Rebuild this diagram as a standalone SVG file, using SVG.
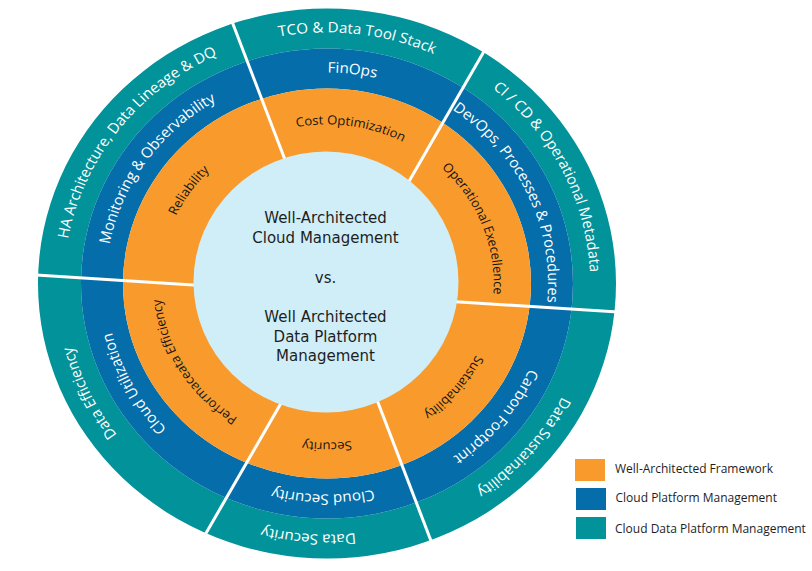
<svg xmlns="http://www.w3.org/2000/svg" xmlns:xlink="http://www.w3.org/1999/xlink" width="812" height="571" viewBox="0 0 812 571">
<style>
  text { font-family: "Open Sans", "Noto Sans", "DejaVu Sans", sans-serif; }
  .teal { fill: #02939A; }
  .blue { fill: #046DAA; }
  .orange { fill: #F99B2C; }
  .core { fill: #D0EEF8; }
  .lw { font-size: 14.5px; fill: #ffffff; text-anchor: middle; }
  .lo { font-size: 12.5px; fill: #141414; text-anchor: middle; }
  .ct { font-family: "DejaVu Sans", "Open Sans", sans-serif; font-size: 15px; fill: #1e1e1e; text-anchor: middle; }
  .lg { font-size: 12px; fill: #1e1e1e; }
  .sep { stroke: #ffffff; stroke-width: 3; fill: none; }
</style>
<defs>
  <path id="ring-teal" fill-rule="evenodd" d="M38,283.5A289,275 0 1 1 616,283.5A289,275 0 1 1 38,283.5Z M81,283.5A246,235 0 1 1 573,283.5A246,235 0 1 1 81,283.5Z"/>
  <path id="ring-blue" fill-rule="evenodd" d="M81,283.5A246,235 0 1 1 573,283.5A246,235 0 1 1 81,283.5Z M123,283.5A204,195 0 1 1 531,283.5A204,195 0 1 1 123,283.5Z"/>
  <path id="ring-orange" fill-rule="evenodd" d="M123,283.5A204,195 0 1 1 531,283.5A204,195 0 1 1 123,283.5Z M207,283.5A120,118 0 1 1 447,283.5A120,118 0 1 1 207,283.5Z"/>
  <clipPath id="w-top"><polygon points="339.4,301.9 185.5,-100 571.2,-100"/></clipPath>
  <clipPath id="w-ur"><polygon points="343.7,294.6 571.2,-100 900,-100 900,330.2"/></clipPath>
  <clipPath id="w-lr"><polygon points="336.4,294.1 900,330.2 900,900 568.5,900"/></clipPath>
  <clipPath id="w-bot"><polygon points="339.4,301.9 568.5,900 -5.5,900"/></clipPath>
  <clipPath id="w-ll"><polygon points="343.7,294.6 -5.5,900 -200,900 -200,259.8"/></clipPath>
  <clipPath id="w-ul"><polygon points="336.4,294.1 -200,259.8 -200,-100 185.5,-100"/></clipPath>
  <path id="arc-teal" d="M-247.2,-43.6A251,251 0 0 1 247.2,-43.6"/>
  <path id="arc-blue" d="M-207.8,-36.6A211,211 0 0 1 207.8,-36.6"/>
  <path id="arc-orange" d="M-156.6,-27.6A159,159 0 0 1 156.6,-27.6"/>
</defs>

<!-- Outer ring: Cloud Data Platform Management -->
<g id="tco-data-tool-stack">
  <use href="#ring-teal" class="teal" clip-path="url(#w-top)"/>
  <text class="lw" transform="translate(327 283.5) scale(1.048 1) rotate(6.7)"><textPath href="#arc-teal" startOffset="50%">TCO &amp; Data Tool Stack</textPath></text>
</g>
<g id="ci-cd-operational-metadata">
  <use href="#ring-teal" class="teal" clip-path="url(#w-ur)"/>
  <text class="lw" transform="translate(327 283.5) scale(1.048 1) rotate(63.2)"><textPath href="#arc-teal" startOffset="50%">CI / CD &amp; Operational Metadata</textPath></text>
</g>
<g id="data-sustainability">
  <use href="#ring-teal" class="teal" clip-path="url(#w-lr)"/>
  <text class="lw" transform="translate(327 283.5) scale(1.048 1) rotate(131.1)"><textPath href="#arc-teal" startOffset="50%">Data Sustainability</textPath></text>
</g>
<g id="data-security">
  <use href="#ring-teal" class="teal" clip-path="url(#w-bot)"/>
  <text class="lw" transform="translate(327 283.5) scale(1.048 1) rotate(184)"><textPath href="#arc-teal" startOffset="50%">Data Security</textPath></text>
</g>
<g id="data-efficiency">
  <use href="#ring-teal" class="teal" clip-path="url(#w-ll)"/>
  <text class="lw" transform="translate(327 283.5) scale(1.048 1) rotate(244.2)"><textPath href="#arc-teal" startOffset="50%">Data Efficiency</textPath></text>
</g>
<g id="ha-architecture">
  <use href="#ring-teal" class="teal" clip-path="url(#w-ul)"/>
  <text class="lw" transform="translate(327 283.5) scale(1.048 1) rotate(307.8)"><textPath href="#arc-teal" startOffset="50%">HA Architecture, Data Lineage &amp; DQ</textPath></text>
</g>

<!-- Middle ring: Cloud Platform Management -->
<g id="finops">
  <use href="#ring-blue" class="blue" clip-path="url(#w-top)"/>
  <text class="lw" transform="translate(327 283.5) scale(1.048 1) rotate(6.5)"><textPath href="#arc-blue" startOffset="50%">FinOps</textPath></text>
</g>
<g id="devops">
  <use href="#ring-blue" class="blue" clip-path="url(#w-ur)"/>
  <text class="lw" transform="translate(327 283.5) scale(1.048 1) rotate(64.8)"><textPath href="#arc-blue" startOffset="50%">DevOps, Processes &amp; Procedures</textPath></text>
</g>
<g id="carbon-footprint">
  <use href="#ring-blue" class="blue" clip-path="url(#w-lr)"/>
  <text class="lw" transform="translate(327 283.5) scale(1.048 1) rotate(129.6)"><textPath href="#arc-blue" startOffset="50%">Carbon Footprint</textPath></text>
</g>
<g id="cloud-security">
  <use href="#ring-blue" class="blue" clip-path="url(#w-bot)"/>
  <text class="lw" transform="translate(327 283.5) scale(1.048 1) rotate(181)"><textPath href="#arc-blue" startOffset="50%">Cloud Security</textPath></text>
</g>
<g id="cloud-utilization">
  <use href="#ring-blue" class="blue" clip-path="url(#w-ll)"/>
  <text class="lw" transform="translate(327 283.5) scale(1.048 1) rotate(241.5)"><textPath href="#arc-blue" startOffset="50%">Cloud Utilization</textPath></text>
</g>
<g id="monitoring-observability">
  <use href="#ring-blue" class="blue" clip-path="url(#w-ul)"/>
  <text class="lw" transform="translate(327 283.5) scale(1.048 1) rotate(305.3)"><textPath href="#arc-blue" startOffset="50%">Monitoring &amp; Observability</textPath></text>
</g>

<!-- Inner ring: Well-Architected Framework -->
<g id="cost-optimization">
  <use href="#ring-orange" class="orange" clip-path="url(#w-top)"/>
  <text class="lo" transform="translate(327 283.5) scale(1.048 1) rotate(8.3)"><textPath href="#arc-orange" startOffset="50%">Cost Optimization</textPath></text>
</g>
<g id="operational-excellence">
  <use href="#ring-orange" class="orange" clip-path="url(#w-ur)"/>
  <text class="lo" transform="translate(327 283.5) scale(1.048 1) rotate(68.6)"><textPath href="#arc-orange" startOffset="50%">Operational Execellence</textPath></text>
</g>
<g id="sustainability">
  <use href="#ring-orange" class="orange" clip-path="url(#w-lr)"/>
  <text class="lo" transform="translate(327 283.5) scale(1.048 1) rotate(130.7)"><textPath href="#arc-orange" startOffset="50%">Sustainability</textPath></text>
</g>
<g id="security">
  <use href="#ring-orange" class="orange" clip-path="url(#w-bot)"/>
  <text class="lo" transform="translate(327 283.5) scale(1.048 1) rotate(180)"><textPath href="#arc-orange" startOffset="50%">Security</textPath></text>
</g>
<g id="performance-efficiency">
  <use href="#ring-orange" class="orange" clip-path="url(#w-ll)"/>
  <text class="lo" transform="translate(327 283.5) scale(1.048 1) rotate(238.3)"><textPath href="#arc-orange" startOffset="50%">Performaceata Efficiency</textPath></text>
</g>
<g id="reliability">
  <use href="#ring-orange" class="orange" clip-path="url(#w-ul)"/>
  <text class="lo" transform="translate(327 283.5) scale(1.048 1) rotate(305.2)"><textPath href="#arc-orange" startOffset="50%">Reliability</textPath></text>
</g>

<!-- Separators -->
<g id="separators">
  <line class="sep" x1="232.2" y1="22" x2="431.8" y2="543"/>
  <line class="sep" x1="484.2" y1="51" x2="203.8" y2="537"/>
  <line class="sep" x1="36" y1="274.9" x2="618" y2="312.1"/>
</g>

<!-- Centre -->
<g id="centre">
  <ellipse class="core" cx="326" cy="282" rx="132.5" ry="130.5"/>
  <text class="ct"><tspan x="325.5" y="223">Well-Architected</tspan><tspan x="325.5" y="243">Cloud Management</tspan></text>
  <text class="ct" x="325.5" y="283">vs.</text>
  <text class="ct"><tspan x="325.5" y="322">Well Architected</tspan><tspan x="325.5" y="341.5">Data Platform</tspan><tspan x="325.5" y="361">Management</tspan></text>
</g>

<!-- Legend -->
<g id="legend">
  <g id="legend-framework">
    <rect class="orange" x="575" y="459" width="30" height="22"/>
    <text class="lg" x="615" y="473">Well-Architected Framework</text>
  </g>
  <g id="legend-cloud">
    <rect class="blue" x="576" y="488" width="30" height="22"/>
    <text class="lg" x="615.5" y="502">Cloud Platform Management</text>
  </g>
  <g id="legend-data">
    <rect class="teal" x="576" y="517" width="30" height="22"/>
    <text class="lg" x="615" y="533">Cloud Data Platform Management</text>
  </g>
</g>
</svg>
